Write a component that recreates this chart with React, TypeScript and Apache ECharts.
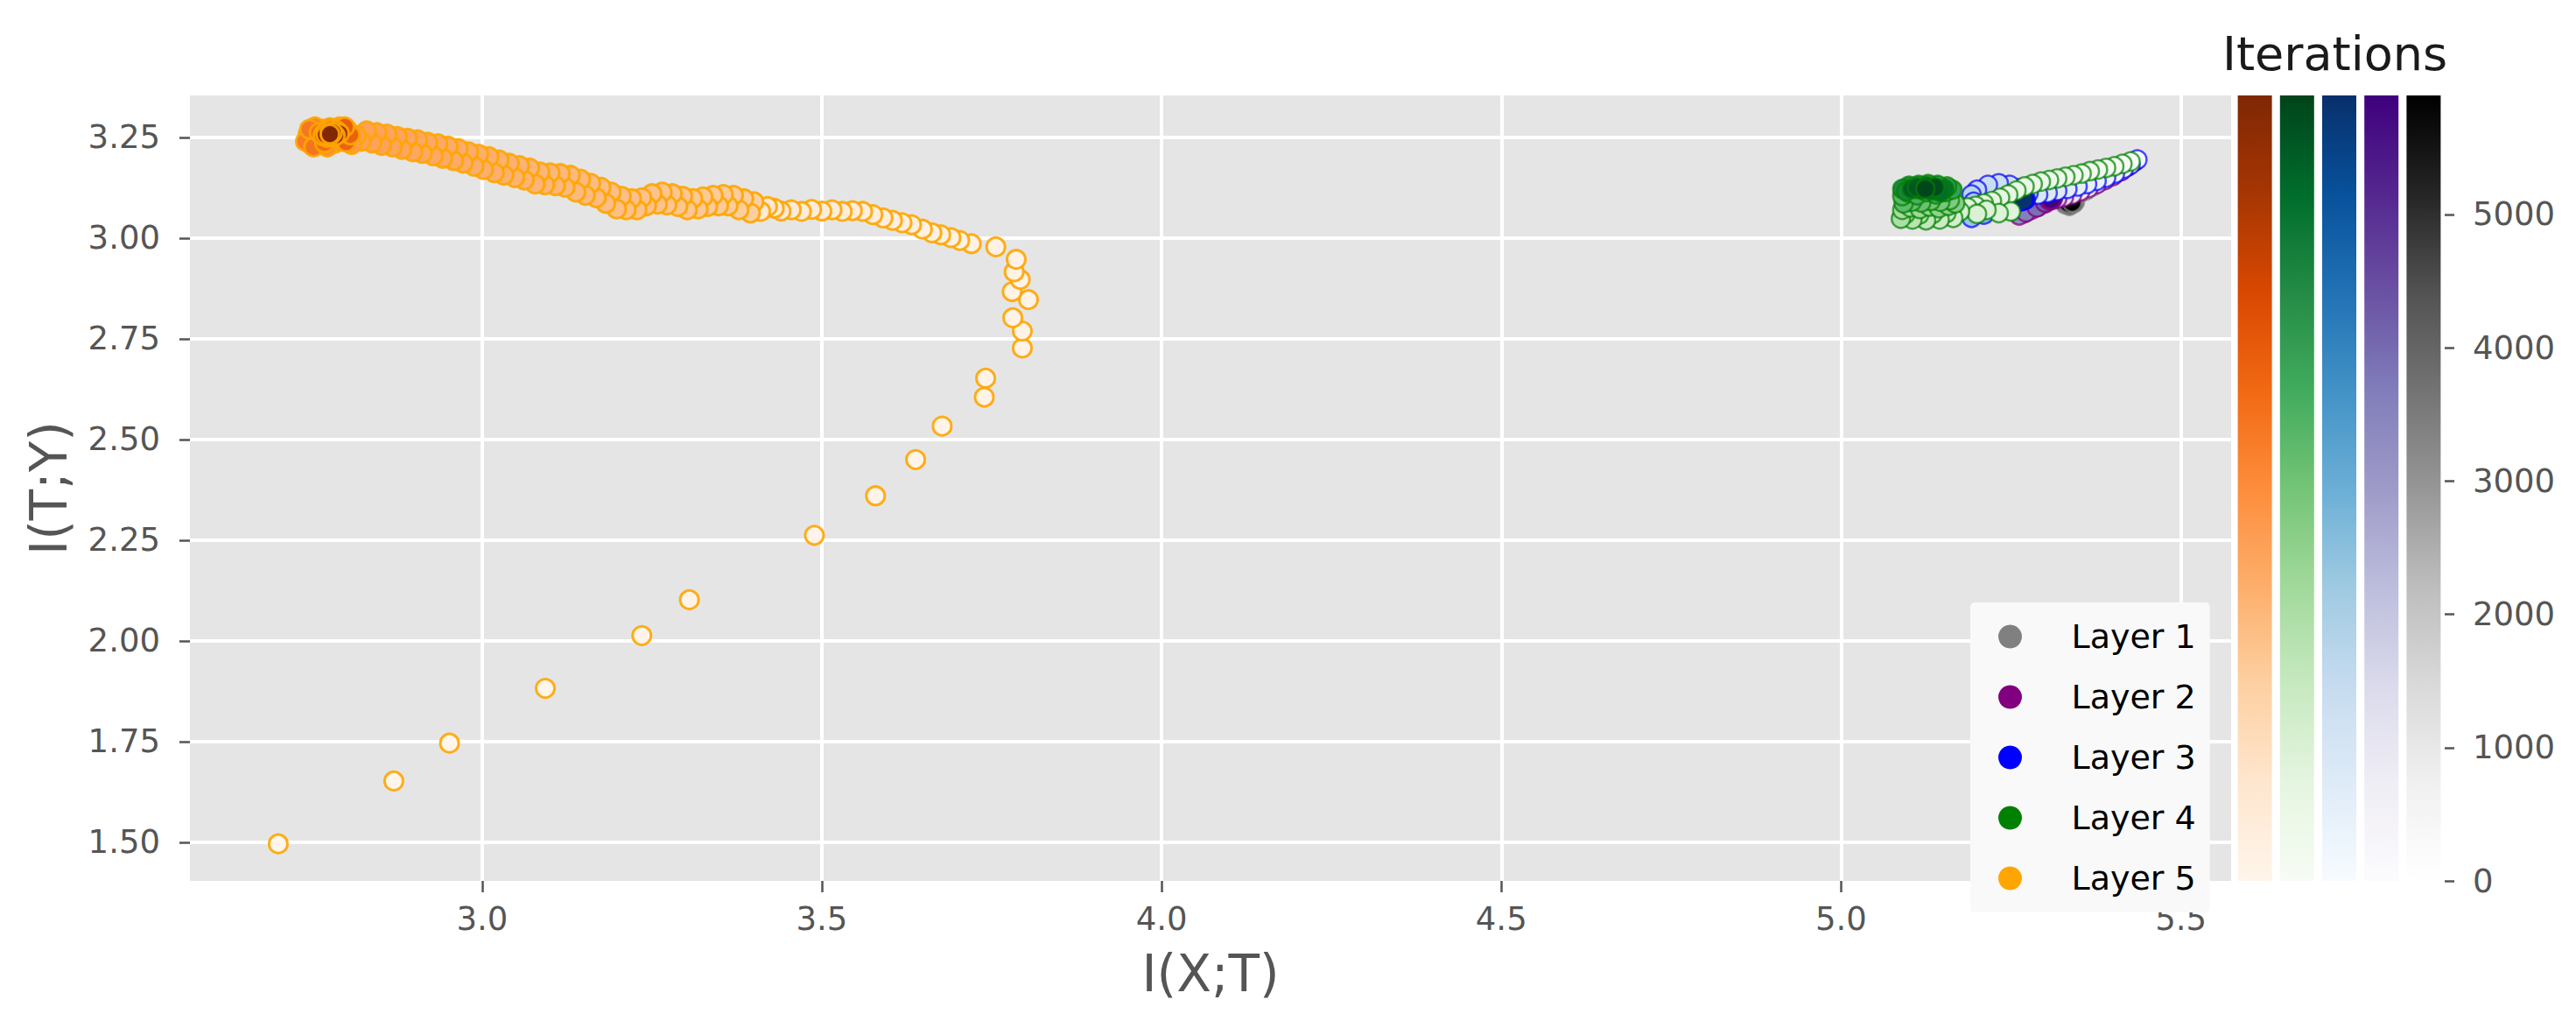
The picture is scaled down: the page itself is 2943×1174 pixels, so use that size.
import React, { useEffect, useRef } from "react";
import * as echarts from "echarts";

// ---------- data ----------
const LAYER_NAMES = ["Layer 1", "Layer 2", "Layer 3", "Layer 4", "Layer 5"];
const X_TICKS = [3.0, 3.5, 4.0, 4.5, 5.0, 5.5];
const Y_TICKS = [1.5, 1.75, 2.0, 2.25, 2.5, 2.75, 3.0, 3.25];
const ITER_TICKS = [0, 1000, 2000, 3000, 4000, 5000];
const ITER_MAX = 5892;
const X_MIN = 2.57;
const X_MAX = 5.574;
const Y_MIN = 1.404;
const Y_MAX = 3.354;

// [I(X;T), I(T;Y), iteration]
const layer1 = [
  [5.430, 3.188, 0], [5.420, 3.176, 100], [5.410, 3.166, 200], [5.400, 3.156, 300], [5.390, 3.146, 400],
  [5.380, 3.138, 500], [5.370, 3.128, 600], [5.360, 3.118, 800], [5.350, 3.110, 1000], [5.342, 3.102, 1300],
  [5.336, 3.096, 1600], [5.332, 3.090, 2000], [5.338, 3.086, 2400], [5.344, 3.090, 2800], [5.340, 3.094, 3200],
  [5.334, 3.088, 3600], [5.330, 3.084, 4000], [5.336, 3.080, 4400], [5.342, 3.086, 4800], [5.338, 3.090, 5200],
  [5.334, 3.086, 5600], [5.340, 3.088, 5890],
];

const layer2 = [
  [5.432, 3.190, 0], [5.422, 3.178, 100], [5.412, 3.166, 200], [5.400, 3.154, 300], [5.388, 3.144, 400],
  [5.376, 3.134, 500], [5.364, 3.124, 600], [5.352, 3.116, 800], [5.340, 3.108, 1000], [5.328, 3.102, 1200],
  [5.318, 3.098, 1500], [5.310, 3.094, 1800], [5.300, 3.086, 2100], [5.290, 3.078, 2400], [5.280, 3.070, 2700],
  [5.270, 3.062, 3000], [5.262, 3.056, 3300], [5.272, 3.064, 3600], [5.288, 3.076, 3900], [5.300, 3.088, 4200],
  [5.308, 3.096, 4500], [5.312, 3.100, 4800], [5.306, 3.094, 5100], [5.310, 3.098, 5400], [5.309, 3.096, 5800],
];

const layer3 = [
  [5.436, 3.195, 0], [5.426, 3.182, 80], [5.416, 3.172, 160], [5.403, 3.160, 240], [5.390, 3.150, 320],
  [5.376, 3.142, 400], [5.362, 3.134, 480], [5.348, 3.128, 560], [5.333, 3.122, 640], [5.318, 3.117, 720],
  [5.304, 3.112, 800], [5.290, 3.108, 900], [5.276, 3.112, 1000], [5.262, 3.124, 1100], [5.248, 3.132, 1200],
  [5.232, 3.136, 1300], [5.216, 3.132, 1400], [5.200, 3.120, 1500], [5.192, 3.108, 1700], [5.195, 3.090, 1900],
  [5.192, 3.066, 2100], [5.192, 3.050, 2300], [5.210, 3.058, 2600], [5.230, 3.070, 2900], [5.250, 3.082, 3200],
  [5.262, 3.090, 3500], [5.270, 3.096, 3800], [5.266, 3.092, 4200], [5.272, 3.096, 4600], [5.268, 3.094, 5000],
  [5.270, 3.094, 5500], [5.269, 3.094, 5850],
];

const layer4 = [
  [5.426, 3.190, 0], [5.414, 3.184, 40], [5.402, 3.178, 80], [5.390, 3.174, 120], [5.378, 3.170, 160],
  [5.366, 3.166, 200], [5.354, 3.160, 240], [5.342, 3.156, 280], [5.330, 3.152, 320], [5.318, 3.148, 360],
  [5.306, 3.144, 400], [5.294, 3.140, 440], [5.282, 3.134, 480], [5.270, 3.128, 520], [5.258, 3.118, 560],
  [5.246, 3.108, 600], [5.234, 3.100, 640], [5.222, 3.092, 680], [5.210, 3.086, 720], [5.198, 3.080, 760],
  [5.186, 3.076, 800], [5.250, 3.066, 860], [5.232, 3.062, 900], [5.214, 3.070, 940], [5.200, 3.060, 980],
  [5.175, 3.066, 1050], [5.165, 3.050, 1150], [5.155, 3.062, 1250], [5.145, 3.046, 1350], [5.135, 3.060, 1450],
  [5.125, 3.044, 1550], [5.115, 3.058, 1650], [5.105, 3.046, 1750], [5.095, 3.060, 1850], [5.088, 3.048, 1950],
  [5.090, 3.070, 2050], [5.102, 3.076, 2150], [5.116, 3.072, 2250], [5.130, 3.078, 2350], [5.144, 3.074, 2450],
  [5.158, 3.080, 2550], [5.168, 3.086, 2650], [5.160, 3.094, 2750], [5.146, 3.090, 2850], [5.132, 3.092, 2950],
  [5.118, 3.088, 3050], [5.104, 3.090, 3150], [5.092, 3.086, 3250], [5.090, 3.104, 3350], [5.100, 3.112, 3450],
  [5.112, 3.106, 3550], [5.126, 3.114, 3650], [5.140, 3.108, 3750], [5.154, 3.114, 3850], [5.164, 3.120, 3950],
  [5.156, 3.128, 4050], [5.142, 3.132, 4150], [5.128, 3.134, 4250], [5.114, 3.132, 4350], [5.100, 3.130, 4450],
  [5.090, 3.122, 4550], [5.096, 3.116, 4650], [5.110, 3.122, 4750], [5.124, 3.126, 4850], [5.138, 3.124, 4950],
  [5.152, 3.122, 5050], [5.146, 3.114, 5150], [5.132, 3.118, 5250], [5.118, 3.120, 5350], [5.104, 3.122, 5450],
  [5.112, 3.126, 5550], [5.126, 3.128, 5650], [5.138, 3.126, 5750], [5.124, 3.122, 5850],
];

const layer5 = [
  [2.700, 1.496, 0], [2.870, 1.652, 8], [2.952, 1.746, 16], [3.093, 1.882, 24], [3.235, 2.013, 32],
  [3.305, 2.102, 40], [3.489, 2.262, 48], [3.579, 2.360, 56], [3.638, 2.450, 64], [3.677, 2.533, 72],
  [3.739, 2.605, 80], [3.741, 2.652, 88], [3.795, 2.727, 96], [3.795, 2.769, 104], [3.781, 2.802, 112],
  [3.804, 2.847, 120], [3.780, 2.867, 128], [3.792, 2.897, 136], [3.783, 2.916, 144], [3.786, 2.947, 152],
  [3.756, 2.978, 160], [3.720, 2.986, 176], [3.703, 2.994, 192], [3.690, 3.001, 208], [3.675, 3.008, 224],
  [3.662, 3.013, 240], [3.648, 3.022, 256], [3.632, 3.033, 272], [3.618, 3.038, 288], [3.604, 3.044, 304],
  [3.590, 3.050, 320], [3.575, 3.058, 340], [3.560, 3.066, 360], [3.545, 3.068, 380], [3.530, 3.066, 400],
  [3.515, 3.070, 420], [3.500, 3.067, 440], [3.485, 3.071, 460], [3.470, 3.066, 480], [3.455, 3.070, 500],
  [3.440, 3.067, 520], [3.430, 3.074, 545], [3.420, 3.078, 570], [3.410, 3.066, 595],
  [3.400, 3.090, 1500], [3.395, 3.062, 1513], [3.385, 3.098, 1526], [3.378, 3.070, 1539], [3.370, 3.106, 1552],
  [3.362, 3.080, 1565], [3.355, 3.108, 1578], [3.348, 3.080, 1591], [3.340, 3.106, 1604], [3.332, 3.078, 1617],
  [3.325, 3.102, 1630], [3.318, 3.072, 1643], [3.310, 3.098, 1656], [3.302, 3.070, 1669], [3.295, 3.104, 1682],
  [3.288, 3.078, 1695], [3.280, 3.110, 1708], [3.272, 3.082, 1721], [3.265, 3.114, 1734], [3.258, 3.084, 1747],
  [3.250, 3.110, 1760], [3.242, 3.080, 1773], [3.235, 3.100, 1786], [3.228, 3.070, 1799], [3.220, 3.098, 1812],
  [3.212, 3.070, 1825], [3.205, 3.104, 1838], [3.198, 3.072, 1851], [3.190, 3.114, 1864], [3.182, 3.086, 1877],
  [3.175, 3.126, 1890], [3.168, 3.100, 1903], [3.160, 3.136, 1916], [3.152, 3.106, 1929], [3.145, 3.146, 1942],
  [3.138, 3.114, 1955], [3.130, 3.156, 1968], [3.122, 3.126, 1981], [3.115, 3.160, 1994], [3.108, 3.130, 2007],
  [3.100, 3.162, 2020], [3.092, 3.132, 2033], [3.085, 3.164, 2046], [3.078, 3.134, 2059], [3.070, 3.174, 2072],
  [3.062, 3.144, 2085], [3.055, 3.180, 2098], [3.048, 3.150, 2111], [3.040, 3.186, 2124], [3.032, 3.156, 2137],
  [3.025, 3.194, 2150], [3.018, 3.162, 2163], [3.010, 3.202, 2176], [3.002, 3.170, 2189], [2.995, 3.208, 2202],
  [2.988, 3.178, 2215], [2.980, 3.214, 2228], [2.972, 3.186, 2241], [2.965, 3.222, 2254], [2.958, 3.192, 2267],
  [2.950, 3.228, 2280], [2.942, 3.198, 2293], [2.935, 3.234, 2306], [2.928, 3.204, 2319], [2.920, 3.238, 2332],
  [2.912, 3.210, 2345], [2.905, 3.244, 2358], [2.898, 3.214, 2371], [2.890, 3.248, 2384], [2.882, 3.220, 2397],
  [2.875, 3.252, 2410], [2.868, 3.226, 2423], [2.860, 3.258, 2436], [2.852, 3.230, 2449], [2.845, 3.262, 2462],
  [2.838, 3.236, 2475], [2.830, 3.266, 2488], [2.822, 3.240, 2501],
  [2.815, 3.254, 2550], [2.808, 3.232, 2610], [2.802, 3.268, 2670], [2.796, 3.244, 2730], [2.790, 3.276, 2790],
  [2.784, 3.236, 2850], [2.778, 3.262, 2910], [2.772, 3.226, 2970], [2.766, 3.270, 3030], [2.760, 3.244, 3090],
  [2.754, 3.276, 3150], [2.748, 3.232, 3210], [2.744, 3.258, 3270], [2.740, 3.240, 3330], [2.746, 3.270, 3390],
  [2.752, 3.226, 3450], [2.760, 3.262, 3510], [2.768, 3.236, 3570], [2.776, 3.274, 3630], [2.784, 3.250, 3690],
  [2.792, 3.262, 3750], [2.800, 3.238, 3810], [2.806, 3.256, 3870], [2.798, 3.276, 3930],
  [2.780, 3.258, 4100], [2.776, 3.262, 4200], [2.772, 3.256, 4300], [2.768, 3.260, 4400], [2.774, 3.266, 4500],
  [2.782, 3.264, 4600], [2.786, 3.258, 4700], [2.780, 3.252, 4800], [2.772, 3.250, 4900], [2.766, 3.254, 5000],
  [2.770, 3.262, 5100], [2.778, 3.268, 5200], [2.786, 3.266, 5300], [2.790, 3.260, 5400], [2.784, 3.254, 5500],
  [2.776, 3.254, 5600], [2.770, 3.256, 5700], [2.776, 3.260, 5780], [2.780, 3.262, 5840], [2.776, 3.258, 5880],
];

const LAYERS = [layer1, layer2, layer3, layer4, layer5];

// ---------- styles ----------
const FONT = "DejaVu Sans";
const LEGEND_COLORS = ["#808080", "#800080", "#0000ff", "#008000", "#ffa500"];
const EDGE_COLORS = [
  "rgba(128,128,128,0.75)",
  "rgba(128,0,128,0.75)",
  "rgba(0,0,255,0.7)",
  "rgba(0,128,0,0.7)",
  "rgba(255,165,0,0.9)",
];
const EDGE_WIDTHS = [2.5, 2.5, 2.5, 2.5, 3];
const CMAP_GREYS = ["#ffffff", "#f0f0f0", "#d9d9d9", "#bdbdbd", "#969696", "#737373", "#525252", "#252525", "#000000"];
const CMAP_PURPLES = ["#fcfbfd", "#efedf5", "#dadaeb", "#bcbddc", "#9e9ac8", "#807dba", "#6a51a3", "#54278f", "#3f007d"];
const CMAP_BLUES = ["#f7fbff", "#deebf7", "#c6dbef", "#9ecae1", "#6baed6", "#4292c6", "#2171b5", "#08519c", "#08306b"];
const CMAP_GREENS = ["#f7fcf5", "#e5f5e0", "#c7e9c0", "#a1d99b", "#74c476", "#41ab5d", "#238b45", "#006d2c", "#00441b"];
const CMAP_ORANGES = ["#fff5eb", "#fee6ce", "#fdd0a2", "#fdae6b", "#fd8d3c", "#f16913", "#d94801", "#a63603", "#7f2704"];
const LAYER_CMAPS = [CMAP_GREYS, CMAP_PURPLES, CMAP_BLUES, CMAP_GREENS, CMAP_ORANGES];
const COLORBAR_CMAPS = [CMAP_ORANGES, CMAP_GREENS, CMAP_BLUES, CMAP_PURPLES, CMAP_GREYS];
const COLORBAR_NAMES = ["Oranges", "Greens", "Blues", "Purples", "Greys"];

function hexRgb(h: string) {
  return [parseInt(h.slice(1, 3), 16), parseInt(h.slice(3, 5), 16), parseInt(h.slice(5, 7), 16)];
}
function sampleCmap(stops: string[], t: number) {
  const c = Math.max(0, Math.min(1, t));
  const pos = c * (stops.length - 1);
  const i = Math.min(stops.length - 2, Math.floor(pos));
  const f = pos - i;
  const a = hexRgb(stops[i]);
  const b = hexRgb(stops[i + 1]);
  const m = a.map((v, k) => Math.round(v + (b[k] - v) * f));
  return `rgb(${m[0]},${m[1]},${m[2]})`;
}

const TICK_COLOR = "#555555";

export default function App() {
  const ref = useRef<HTMLDivElement>(null);
  useEffect(() => {
    if (!ref.current) return;
    const chart = echarts.init(ref.current, undefined, { renderer: "svg" });

    const scatterSeries = LAYERS.map((L, k) => ({
      type: "scatter",
      name: LAYER_NAMES[k],
      xAxisIndex: 0,
      yAxisIndex: 0,
      symbol: "circle",
      symbolSize: 21,
      z: 2 + k,
      emphasis: { disabled: true },
      itemStyle: { color: LEGEND_COLORS[k], borderColor: EDGE_COLORS[k], borderWidth: EDGE_WIDTHS[k], opacity: 1 },
      data: L.map((p) => ({
        value: p,
        itemStyle: { color: sampleCmap(LAYER_CMAPS[k], p[2] / ITER_MAX) },
      })),
    }));

    const colorbarSeries = {
      type: "bar",
      name: "colorbar",
      xAxisIndex: 1,
      yAxisIndex: 1,
      barWidth: 39,
      silent: true,
      data: COLORBAR_CMAPS.map((cm) => ({
        value: ITER_MAX,
        itemStyle: {
          color: new echarts.graphic.LinearGradient(
            0, 1, 0, 0,
            cm.map((c, i) => ({ offset: i / (cm.length - 1), color: c }))
          ),
        },
      })),
    };

    const option: any = {
      animation: false,
      backgroundColor: "#ffffff",
      textStyle: { fontFamily: FONT },
      title: {
        text: "Iterations",
        left: 2539,
        top: 34,
        padding: 0,
        textStyle: { fontFamily: FONT, fontSize: 54, fontWeight: "normal", color: "#1a1a1a" },
      },
      legend: {
        orient: "vertical",
        left: 2251,
        top: 688,
        padding: [20, 16, 20, 32],
        itemWidth: 40,
        itemHeight: 27,
        itemGap: 31,
        icon: "circle",
        backgroundColor: "#f9f9f9",
        borderRadius: 5,
        itemStyle: { borderWidth: 0 },
        textStyle: { fontFamily: FONT, fontSize: 38, color: "#000000", padding: [0, 0, 0, 45] },
        data: LAYER_NAMES.map((n, k) => ({ name: n, itemStyle: { color: LEGEND_COLORS[k], borderWidth: 0 } })),
      },
      grid: [
        {
          left: 217,
          top: 109,
          width: 2332,
          height: 897,
          show: true,
          backgroundColor: "#e5e5e5",
          borderWidth: 0,
        },
        {
          left: 2552,
          top: 109,
          width: 241,
          height: 897,
          show: false,
        },
      ],
      xAxis: [
        {
          type: "value",
          gridIndex: 0,
          min: X_MIN,
          max: X_MAX,
          name: "I(X;T)",
          nameLocation: "middle",
          nameGap: 77,
          nameTextStyle: { fontFamily: FONT, fontSize: 58, color: TICK_COLOR },
          axisLine: { show: false },
          axisTick: { show: true, length: 13, lineStyle: { color: TICK_COLOR, width: 2.5 }, customValues: X_TICKS },
          axisLabel: {
            customValues: X_TICKS,
            formatter: (v: number) => v.toFixed(1),
            fontFamily: FONT,
            fontSize: 37,
            color: TICK_COLOR,
            margin: 25,
          },
          splitLine: { show: true, lineStyle: { color: "#ffffff", width: 4 } },
        },
        {
          type: "category",
          gridIndex: 1,
          data: COLORBAR_NAMES,
          show: false,
          boundaryGap: true,
        },
      ],
      yAxis: [
        {
          type: "value",
          gridIndex: 0,
          min: Y_MIN,
          max: Y_MAX,
          name: "I(T;Y)",
          nameLocation: "middle",
          nameGap: 132,
          nameRotate: 90,
          nameTextStyle: { fontFamily: FONT, fontSize: 58, color: TICK_COLOR },
          axisLine: { show: false },
          axisTick: { show: true, length: 12, lineStyle: { color: TICK_COLOR, width: 2.5 }, customValues: Y_TICKS },
          axisLabel: {
            customValues: Y_TICKS,
            formatter: (v: number) => v.toFixed(2),
            fontFamily: FONT,
            fontSize: 37,
            color: TICK_COLOR,
            margin: 34,
          },
          splitLine: { show: true, lineStyle: { color: "#ffffff", width: 4 } },
        },
        {
          type: "value",
          gridIndex: 1,
          position: "right",
          min: 0,
          max: ITER_MAX,
          axisLine: { show: false },
          axisTick: { show: true, length: 11, lineStyle: { color: TICK_COLOR, width: 2.5 }, customValues: ITER_TICKS },
          axisLabel: {
            customValues: ITER_TICKS,
            formatter: (v: number) => String(Math.round(v)),
            fontFamily: FONT,
            fontSize: 37,
            color: TICK_COLOR,
            margin: 32,
          },
          splitLine: { show: false },
        },
      ],
      series: [colorbarSeries, ...scatterSeries],
    };

    chart.setOption(option);
    return () => chart.dispose();
  }, []);

  return (
    <div
      ref={ref}
      style={{ position: "fixed", left: 0, top: 0, width: 2943, height: 1174, background: "#ffffff" }}
    />
  );
}
